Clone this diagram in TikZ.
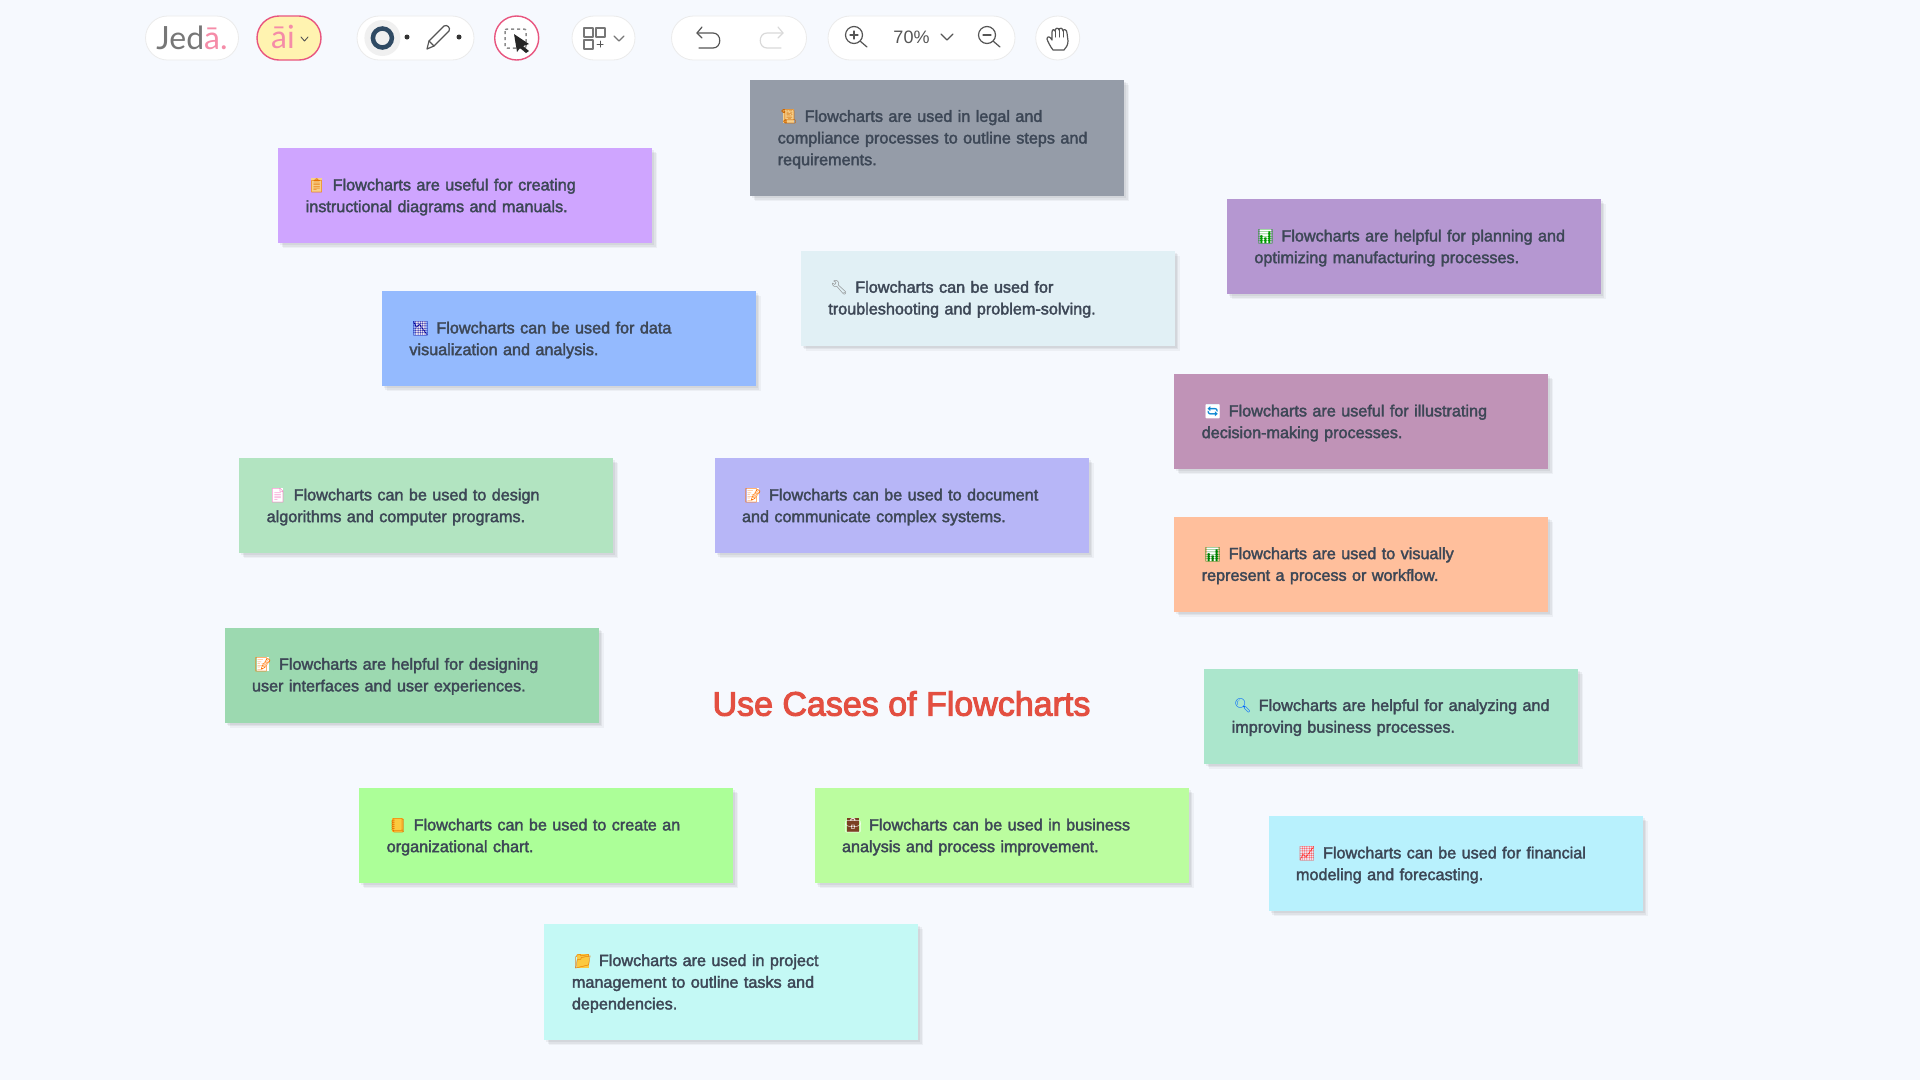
\documentclass[tikz,border=0pt]{standalone}
\usepackage{xcolor}
\usepackage{fontspec}
\usetikzlibrary{shadows}
\setmainfont{Liberation Sans}
\newfontfamily\emojifont{Noto Emoji}
\newfontfamily\logofont{Lato}
\newfontfamily\cardfont[FakeBold=2.2]{Liberation Sans}
\newfontfamily\titlefont[FakeBold=3]{Liberation Sans}

\definecolor{pagebg}{HTML}{F6F9FE}
\definecolor{cardtext}{HTML}{3D4756}
\definecolor{titlered}{HTML}{E34F41}
\definecolor{pinkline}{HTML}{E8557F}
\definecolor{logopink}{HTML}{F58CA8}
\definecolor{icongrey}{HTML}{555555}
\definecolor{ringblue}{HTML}{2F4A63}
\definecolor{aiyellow}{HTML}{FFF3B0}
\definecolor{legalfill}{HTML}{959CA8}
\definecolor{creatingfill}{HTML}{CFA5FF}
\definecolor{planningfill}{HTML}{B597D1}
\definecolor{troublefill}{HTML}{E1F0F5}
\definecolor{datafill}{HTML}{94BAFE}
\definecolor{decisionfill}{HTML}{C093B7}
\definecolor{designfill}{HTML}{B2E4C1}
\definecolor{documentfill}{HTML}{B7B6F7}
\definecolor{visuallyfill}{HTML}{FFBF9C}
\definecolor{interfacesfill}{HTML}{9CD9B0}
\definecolor{analyzingfill}{HTML}{ABE6CC}
\definecolor{organizationfill}{HTML}{ACFF98}
\definecolor{businessfill}{HTML}{BBFD9F}
\definecolor{financialfill}{HTML}{B8F1FD}
\definecolor{projectfill}{HTML}{C4F9F5}
\definecolor{emotan}{HTML}{F7CF8A}
\definecolor{emopale}{HTML}{EDE6F2}
\definecolor{emoyellow}{HTML}{FBC93F}
\definecolor{emobrown}{HTML}{7B3F22}

\newcommand{\emo}[3]{\rule{0pt}{14.5pt}\makebox[27pt][l]{\hspace{4pt}\makebox[14pt][c]{\textcolor{#1}{\rule[-1.5pt]{11.5pt}{14pt}}}\hspace{-14pt}\makebox[14pt][c]{\emojifont\fontsize{14}{14}\selectfont\color{#2}#3}}}

\tikzset{
    card/.style={rectangle,anchor=north west,minimum width=374pt,minimum height=95pt,text width=319pt,
        inner xsep=27.5pt,inner ysep=0pt,align=left,text=cardtext,
        font=\cardfont\fontsize{16.2}{21.7}\selectfont,
        drop shadow={shadow xshift=5pt,shadow yshift=-5pt,fill=black,opacity=.04},
        drop shadow={shadow xshift=3.5pt,shadow yshift=-3.5pt,fill=black,opacity=.05},
        drop shadow={shadow xshift=2pt,shadow yshift=-2pt,fill=black,opacity=.05}},
    pill/.style={rectangle,rounded corners=22pt,draw=black!8,line width=0.8pt,fill=white,minimum height=44pt,inner sep=0pt},
    tool/.style={draw=icongrey,line width=1.2pt,line cap=round,line join=round},
}

\begin{document}
\begin{tikzpicture}[x=1pt,y=-1pt]
    \useasboundingbox (0,0) rectangle (1920,1080);
    \fill[pagebg] (0,0) rectangle (1920,1080);

    \node[pill,minimum width=93pt] (jedapill) at (192,38) {};
    \node[pill,minimum width=64pt,draw=pinkline,line width=1.4pt,fill=aiyellow] (aipill) at (289,38) {};
    \node[pill,minimum width=117pt] (penpill) at (415.5,38) {};
    \node[pill,minimum width=44pt,minimum height=44pt,draw=pinkline,line width=1.4pt] (selectpill) at (516.7,38) {};
    \node[pill,minimum width=63pt] (gridpill) at (603.5,38) {};
    \node[pill,minimum width=135pt] (undopill) at (739,38) {};
    \node[pill,minimum width=187pt] (zoompill) at (921.5,38) {};
    \node[pill,minimum width=44pt] (handpill) at (1057.7,38) {};

    \node[inner sep=0pt,font=\logofont\fontsize{32}{32}\selectfont] (jedalogo) at (jedapill) {\textcolor{icongrey!80}{Jed}\textcolor{logopink}{ā.}};
    \node[inner sep=0pt,font=\logofont\fontsize{32}{32}\selectfont] (ailogo) at (283,37) {\textcolor{logopink}{āi}};
    \draw[tool,line width=0.9pt] (301,37) -- (304.5,41) -- (308,37);

    \fill[black!6] (382.4,38) circle (18);
    \draw[ringblue,line width=4.5pt] (382.4,38) circle (9.5);
    \fill[black!80] (407,37) circle (2.5);
    \draw[tool] (427,49) -- (429,41) -- (444,26) .. controls (447,24) and (451,28) .. (449,31) -- (434,46) -- cycle;
    \draw[tool] (429,41) -- (434,46);
    \fill[black!80] (459,37) circle (2.5);

    \draw[black!45,line width=1.5pt,dashed,rounded corners=2pt] (505,29) rectangle (526,48);
    \fill[black!85] (514,34) -- (529,44) -- (523,46) -- (529,51) -- (526,53) -- (520,48) -- (517,52) -- cycle;

    \draw[tool,draw=icongrey!80] (584,28) rectangle (593,37);
    \draw[tool,draw=icongrey!80] (596,28) rectangle (605,37);
    \draw[tool,draw=icongrey!80] (584,40) rectangle (593,49);
    \draw[tool,line width=1pt] (597,44) -- (603,44) (600,41) -- (600,47);
    \draw[tool,draw=icongrey!80] (614,36) -- (619,41) -- (624,36);

    \draw[tool] (702,27) -- (697,33) -- (702,38);
    \draw[tool] (697,33) -- (713,33) .. controls (722,33) and (722,48) .. (713,48) -- (699,48);
    \draw[tool,draw=black!15] (778,27) -- (783,33) -- (778,38);
    \draw[tool,draw=black!15] (783,33) -- (767,33) .. controls (758,33) and (758,48) .. (767,48) -- (781,48);

    \draw[tool] (854,35) circle (8.5);
    \draw[tool] (860,41) -- (867,47);
    \draw[tool] (850,35) -- (858,35) (854,31) -- (854,39);
    \node[inner sep=0pt,text=icongrey,font=\fontsize{18}{18}\selectfont] (zoomtext) at (911.5,37.5) {70\%};
    \draw[tool] (941,34) -- (947,40) -- (953,34);
    \draw[tool] (987,35) circle (8.5);
    \draw[tool] (993,41) -- (1000,47);
    \draw[tool] (983,35) -- (991,35);

    \draw[tool] (1053,50) .. controls (1050,46) and (1048,42) .. (1047,39) .. controls (1047,36) and (1050,36) .. (1052,40)
        -- (1052,32) .. controls (1052,29) and (1055,29) .. (1055,31) .. controls (1055,27.5) and (1059,27.5) .. (1059,30)
        .. controls (1059,27.5) and (1063,27.5) .. (1063,31) .. controls (1063,29) and (1067,29) .. (1067,33)
        -- (1068,41) .. controls (1068,45) and (1066,48) .. (1064,50) -- cycle;
    \draw[tool,line width=1pt] (1055,31) -- (1055,37) (1059,30) -- (1059,37) (1063,31) -- (1063,37);

    \node[card,fill=legalfill,minimum height=116.5pt] (legal) at (750,79.5) {\emo{emotan}{orange!80!black}{📜}Flowcharts are used in legal and\\compliance processes to outline steps and\\requirements.};
    \node[card,fill=creatingfill] (creating) at (278,148) {\emo{emotan}{orange!90!black}{📋}Flowcharts are useful for creating\\instructional diagrams and manuals.};
    \node[card,fill=planningfill] (planning) at (1226.7,199) {\emo{white}{green!60!black}{📊}Flowcharts are helpful for planning and\\optimizing manufacturing processes.};
    \node[card,fill=troublefill] (trouble) at (800.6,250.3) {\emo{troublefill}{black!50}{🔧}Flowcharts can be used for\\troubleshooting and problem-solving.};
    \node[card,fill=datafill] (data) at (381.7,291) {\emo{emopale}{blue!60!black}{📉}Flowcharts can be used for data\\visualization and analysis.};
    \node[card,fill=decisionfill] (decision) at (1174,374) {\emo{cyan!70!blue}{white}{🔄}Flowcharts are useful for illustrating\\decision-making processes.};
    \node[card,fill=designfill] (design) at (239,458) {\emo{white}{magenta!50!white}{📄}Flowcharts can be used to design\\algorithms and computer programs.};
    \node[card,fill=documentfill] (document) at (714.3,458) {\emo{white}{orange!90!red}{📝}Flowcharts can be used to document\\and communicate complex systems.};
    \node[card,fill=visuallyfill] (visually) at (1174,516.7) {\emo{white}{green!50!black}{📊}Flowcharts are used to visually\\represent a process or workflow.};
    \node[card,fill=interfacesfill] (interfaces) at (224.3,627.3) {\emo{white}{orange!90!red}{📝}Flowcharts are helpful for designing\\user interfaces and user experiences.};
    \node[card,fill=analyzingfill] (analyzing) at (1204,668.5) {\emo{analyzingfill}{blue!60!cyan}{🔍}Flowcharts are helpful for analyzing and\\improving business processes.};
    \node[card,fill=organizationfill] (organization) at (359,788) {\emo{emoyellow}{orange!90!black}{📒}Flowcharts can be used to create an\\organizational chart.};
    \node[card,fill=businessfill] (business) at (814.3,788) {\emo{emobrown}{white}{💼}Flowcharts can be used in business\\analysis and process improvement.};
    \node[card,fill=financialfill] (financial) at (1268.3,816) {\emo{emopale}{red!70!pink}{📈}Flowcharts can be used for financial\\modeling and forecasting.};
    \node[card,fill=projectfill,minimum height=116.5pt] (project) at (544.2,923.7) {\emo{emoyellow}{orange!90!black}{📁}Flowcharts are used in project\\management to outline tasks and\\dependencies.};

    \node[inner sep=0pt,text=titlered,font=\titlefont\fontsize{34}{34}\selectfont] (title) at (901.5,703.5) {Use Cases of Flowcharts};
\end{tikzpicture}
\end{document}
